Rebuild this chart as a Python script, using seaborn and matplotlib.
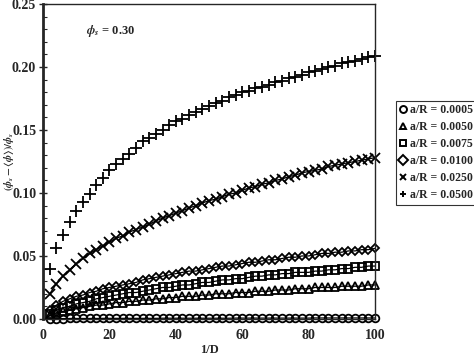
import numpy as np
import pandas as pd
import matplotlib
matplotlib.use("Agg")
import matplotlib.pyplot as plt
from matplotlib.lines import Line2D
from matplotlib.ticker import MultipleLocator
import seaborn as sns

# x values (1/D) and the six a/R series
inv_d = list(range(2, 101, 2))

circ_0005 = [0.0003, 0.0003, 0.0003, 0.0004, 0.0004, 0.0004, 0.0004, 0.0004, 0.0005, 0.0005,
             0.0005, 0.0005, 0.0005, 0.0005, 0.0005, 0.0005, 0.0005, 0.0006, 0.0006, 0.0006,
             0.0006, 0.0006, 0.0006, 0.0006, 0.0006, 0.0006, 0.0006, 0.0006, 0.0007, 0.0007,
             0.0007, 0.0007, 0.0007, 0.0007, 0.0007, 0.0007, 0.0007, 0.0007, 0.0007, 0.0007,
             0.0008, 0.0008, 0.0008, 0.0008, 0.0008, 0.0008, 0.0008, 0.0008, 0.0008, 0.0008]
tri_0050 = [0.003, 0.005, 0.006, 0.007, 0.008, 0.009, 0.010, 0.011, 0.011, 0.012,
            0.013, 0.013, 0.014, 0.014, 0.015, 0.015, 0.016, 0.016, 0.017, 0.017,
            0.018, 0.018, 0.018, 0.019, 0.019, 0.020, 0.020, 0.020, 0.021, 0.021,
            0.021, 0.022, 0.022, 0.022, 0.023, 0.023, 0.023, 0.024, 0.024, 0.024,
            0.025, 0.025, 0.025, 0.025, 0.026, 0.026, 0.026, 0.026, 0.027, 0.027]
sq_0075 = [0.004, 0.007, 0.009, 0.010, 0.012, 0.013, 0.014, 0.016, 0.017, 0.018,
           0.019, 0.020, 0.021, 0.021, 0.022, 0.023, 0.024, 0.025, 0.025, 0.026,
           0.027, 0.027, 0.028, 0.029, 0.029, 0.030, 0.031, 0.031, 0.032, 0.032,
           0.033, 0.034, 0.034, 0.035, 0.035, 0.036, 0.036, 0.037, 0.037, 0.037,
           0.038, 0.038, 0.039, 0.039, 0.040, 0.040, 0.041, 0.041, 0.042, 0.042]
dia_0100 = [0.007, 0.011, 0.014, 0.016, 0.018, 0.019, 0.021, 0.022, 0.024, 0.025,
            0.026, 0.027, 0.028, 0.029, 0.031, 0.032, 0.033, 0.034, 0.035, 0.036,
            0.037, 0.038, 0.038, 0.039, 0.040, 0.041, 0.042, 0.042, 0.043, 0.044,
            0.045, 0.045, 0.046, 0.047, 0.047, 0.048, 0.049, 0.049, 0.050, 0.050,
            0.051, 0.052, 0.052, 0.053, 0.053, 0.054, 0.054, 0.055, 0.055, 0.056]
x_0250 = [0.020, 0.028, 0.034, 0.039, 0.044, 0.048, 0.052, 0.055, 0.058, 0.061,
          0.064, 0.066, 0.069, 0.071, 0.073, 0.075, 0.078, 0.080, 0.082, 0.084,
          0.086, 0.088, 0.090, 0.092, 0.094, 0.095, 0.097, 0.099, 0.100, 0.102,
          0.104, 0.105, 0.107, 0.108, 0.110, 0.111, 0.113, 0.114, 0.116, 0.117,
          0.118, 0.119, 0.121, 0.122, 0.123, 0.124, 0.125, 0.126, 0.127, 0.128]
plus_0500 = [0.040, 0.056, 0.067, 0.077, 0.086, 0.093, 0.099, 0.106, 0.112, 0.118,
             0.123, 0.127, 0.131, 0.136, 0.141, 0.144, 0.147, 0.150, 0.154, 0.157,
             0.159, 0.162, 0.164, 0.167, 0.169, 0.171, 0.173, 0.176, 0.178, 0.180,
             0.181, 0.183, 0.184, 0.186, 0.188, 0.189, 0.191, 0.192, 0.194, 0.196,
             0.197, 0.198, 0.200, 0.201, 0.203, 0.204, 0.205, 0.206, 0.208, 0.209]

labels = ["a/R = 0.0005", "a/R = 0.0050", "a/R = 0.0075",
          "a/R = 0.0100", "a/R = 0.0250", "a/R = 0.0500"]
series = [circ_0005, tri_0050, sq_0075, dia_0100, x_0250, plus_0500]
markers = ["o", "^", "s", "D", "x", "+"]
msizes = [5.5, 6, 5.5, 4.5, 7, 8.5]
lines = [0.9, 0.9, 0.9, 0.9, 0.9, 0]

sns.set_style("ticks")
plt.rcParams["font.family"] = ["Liberation Serif", "DejaVu Serif"]
plt.rcParams["font.weight"] = "bold"
plt.rcParams["mathtext.fontset"] = "stix"

fig = plt.figure(figsize=(4.74, 3.58), dpi=100)
ax = fig.add_axes([0.091, 0.109, 0.700, 0.880])

for vals, m, ms, lw in zip(series, markers, msizes, lines):
    sns.lineplot(x=inv_d, y=vals, ax=ax, color="black", linewidth=lw,
                 marker=m, markersize=ms, markerfacecolor="none",
                 markeredgecolor="black", markeredgewidth=1.3, clip_on=False)

ax.set_xlim(0, 100)
ax.set_ylim(0, 0.25)
ax.xaxis.set_major_locator(MultipleLocator(20))
ax.yaxis.set_major_locator(MultipleLocator(0.05))
ax.yaxis.set_minor_locator(MultipleLocator(0.01))
ax.yaxis.set_major_formatter(matplotlib.ticker.FormatStrFormatter("%.2f"))
ax.tick_params(axis="y", which="major", direction="inout", length=6, width=1,
               labelsize=10, pad=2)
ax.tick_params(axis="y", which="minor", direction="in", length=3, width=0.8)
ax.tick_params(axis="x", which="major", length=0, labelsize=10, pad=7)
for lab in ax.get_xticklabels() + ax.get_yticklabels():
    lab.set_fontweight("bold")

ax.spines["left"].set_linewidth(2)
ax.spines["bottom"].set_linewidth(1)
ax.spines["top"].set_linewidth(1)
ax.spines["right"].set_linewidth(1)

ax.set_xlabel("1/D", fontsize=9, fontweight="bold", labelpad=2)
ax.set_ylabel(r"$(\phi_s - \langle\phi\rangle)/\phi_s$", fontsize=7.5)
ax.yaxis.set_label_coords(-0.082, 0.5)
ax.text(0.13, 0.905, r"$\phi_s$ = 0.30", transform=ax.transAxes,
        fontsize=9, fontweight="bold")

handles = [Line2D([], [], linestyle="none", marker=m, color="black",
                  markerfacecolor="none", markersize=5, markeredgewidth=1.4)
           for m in markers]
leg = fig.legend(handles, labels, loc="upper left",
                 bbox_to_anchor=(0.822, 0.735), frameon=True, fancybox=False,
                 edgecolor="black", handlelength=0.6, handletextpad=0.3,
                 borderpad=0.3, labelspacing=0.42, prop={"size": 8.5, "weight": "bold"})
leg.get_frame().set_linewidth(0.8)

fig.savefig("out.png", dpi=100)
